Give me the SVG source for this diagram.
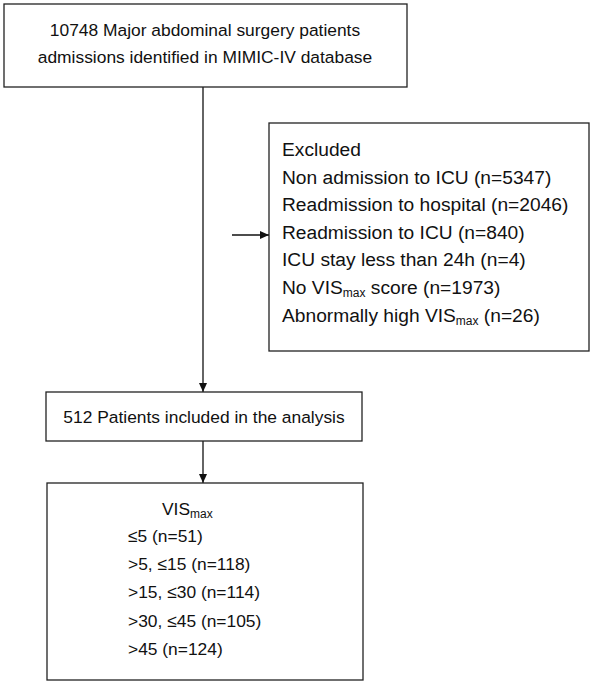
<svg xmlns="http://www.w3.org/2000/svg" width="593" height="685" viewBox="0 0 593 685">
<style>
.box{fill:#fff;stroke:#222;stroke-width:1.3}
text{font-family:"Liberation Sans",Arial,sans-serif;font-size:17.4px;fill:#111}
.ex{font-size:19.2px}
.c{text-anchor:middle}
.sub{font-size:12px}
.ln{stroke:#111;stroke-width:1.3;fill:none}
</style>
<defs>
<marker id="ah" markerWidth="10" markerHeight="10" refX="9" refY="5" orient="auto" markerUnits="userSpaceOnUse">
<path d="M0,1 L9,5 L0,9 Z" fill="#111"/>
</marker>
</defs>
<rect width="593" height="685" fill="#fff"/>
<g id="connectors">
<line class="ln" x1="203" y1="87" x2="203" y2="392" marker-end="url(#ah)"/>
<line class="ln" x1="232" y1="235" x2="269" y2="235" marker-end="url(#ah)"/>
<line class="ln" x1="203" y1="441" x2="203" y2="483" marker-end="url(#ah)"/>
</g>
<g id="n1">
<rect class="box" x="4" y="4" width="403" height="83"/>
<text class="c" x="205" y="36">10748 Major abdominal surgery patients</text>
<text class="c" x="205" y="63">admissions identified in MIMIC-IV database</text>
</g>
<g id="n2">
<rect class="box" x="269" y="123" width="320" height="228"/>
<text class="ex" x="282" y="156">Excluded</text>
<text class="ex" x="282" y="184">Non admission to ICU (n=5347)</text>
<text class="ex" x="282" y="211">Readmission to hospital (n=2046)</text>
<text class="ex" x="282" y="239">Readmission to ICU (n=840)</text>
<text class="ex" x="282" y="266">ICU stay less than 24h (n=4)</text>
<text class="ex" x="282" y="294">No VIS<tspan class="sub" dy="3">max</tspan><tspan dy="-3"> score (n=1973)</tspan></text>
<text class="ex" x="282" y="322">Abnormally high VIS<tspan class="sub" dy="3">max</tspan><tspan dy="-3"> (n=26)</tspan></text>
</g>
<g id="n3">
<rect class="box" x="46" y="392" width="316" height="49"/>
<text class="c" x="204" y="423">512 Patients included in the analysis</text>
</g>
<g id="n4">
<rect class="box" x="47" y="483" width="316" height="197"/>
<text x="162" y="515">VIS<tspan class="sub" dy="3">max</tspan></text>
<text x="128" y="542">≤5 (n=51)</text>
<text x="128" y="570">&gt;5, ≤15 (n=118)</text>
<text x="128" y="598">&gt;15, ≤30 (n=114)</text>
<text x="128" y="627">&gt;30, ≤45 (n=105)</text>
<text x="128" y="655">&gt;45 (n=124)</text>
</g>
</svg>
